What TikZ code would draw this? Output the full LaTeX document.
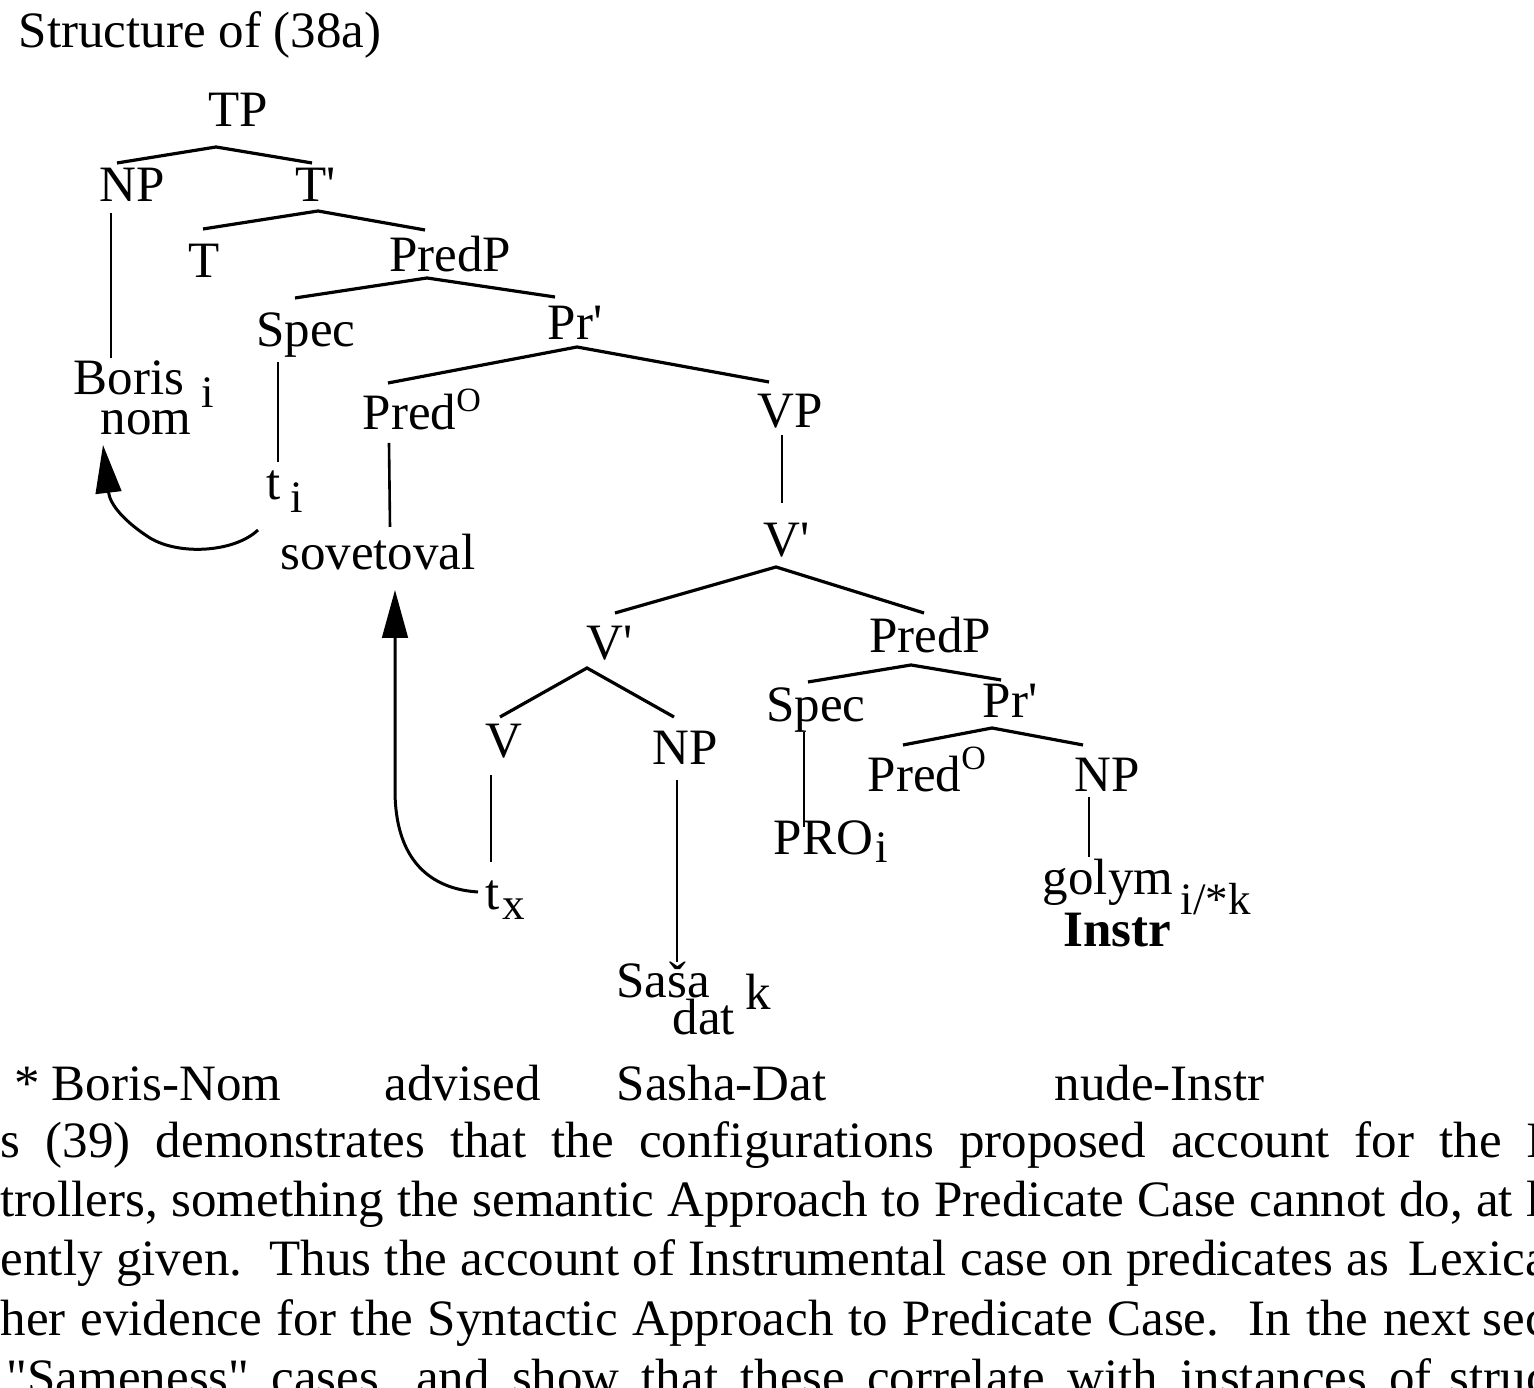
\documentclass[tikz,border=0pt]{standalone}
\usepackage{fontspec}
\setmainfont{Liberation Serif}
\usetikzlibrary{calc,arrows.meta}
\newcommand\fmain{\fontsize{12.75pt}{15pt}\selectfont}
\newcommand\fsubs{\fontsize{11.25pt}{13pt}\selectfont}
\newcommand\fsups{\fontsize{8.5pt}{10pt}\selectfont}
\newcommand\qsg{\textquotesingle}
\begin{document}
\begin{tikzpicture}[x=0.25pt,y=-0.25pt,
  lab/.style={inner sep=0pt,anchor=base,font=\fmain},
  labw/.style={inner sep=0pt,anchor=base west,font=\fmain},
  br/.style={line width=0.8pt},
  vl/.style={line width=0.65pt},
  mv/.style={line width=0.75pt,-{Triangle[length=12pt,width=6.4pt]}}]
\useasboundingbox (0,0) rectangle (1534,1388);
\clip (0,0) rectangle (1534,1388);

% title
\node[labw] (title) at (18,48) {Structure of (38a)};

% upper tree
\node[lab] (TP) at (238,127) {TP};
\node[lab] (NP1) at (132,202) {NP};
\node[lab] (Tb) at (316,202) {T\qsg};
\node[lab] (T) at (204,278) {T};
\node[lab] (PredP1) at (450,272) {PredP};
\node[lab] (Spec1) at (306,347) {Spec};
\node[lab] (Pr1) at (575,340) {Pr\qsg};
\node[lab] (Boris) at (129,395) {Boris};
\node[lab] (nom) at (146,435) {nom};
\node[lab,font=\fsubs] (Bi) at (208,408) {i};
\node[labw] (ti) at (266,500) {t\kern2.5pt\raisebox{-3.25pt}{\fsubs i}};
\node[labw] (Pred1) at (362,430) {Pred\raisebox{4.5pt}{\fsups O}};
\node[lab] (sov) at (378,570) {sovetoval};
\node[lab] (VP) at (790,428) {VP};
\node[lab] (Vb1) at (787,557) {V\qsg};
\node[lab] (Vb2) at (610,660) {V\qsg};
\node[lab] (V) at (504,758) {V};
\node[labw] (tx) at (485,910) {t\kern0.75pt\raisebox{-2.5pt}{\fsubs x}};
\node[lab] (NP2) at (685,765) {NP};
\node[lab] (Sasa) at (663,998) {Saša};
\node[lab] (dat) at (704,1035) {dat};
\node[lab] (kk) at (758,1010) {k};
\node[lab] (PredP2) at (930,653) {PredP};
\node[lab] (Spec2) at (816,722) {Spec};
\node[labw] (PRO) at (773,855) {PRO\kern0.5pt\raisebox{-2pt}{\fsubs i}};
\node[lab] (Pr2) at (1010,718) {Pr\qsg};
\node[labw] (Pred2) at (867,792) {Pred\raisebox{5.5pt}{\fsups O}};
\node[lab] (NP3) at (1107,792) {NP};
\node[lab] (golym) at (1108,895) {golym};
\node[labw,font=\fsubs] (ik) at (1180,915) {i/*k};
\node[lab] (Instr) at (1117,947) {\bfseries Instr};

% branches
\draw[br] ($(NP1.base)+(-15,-39)$) -- ($(TP.base)+(-22,20)$) -- ($(Tb.base)+(-4,-39)$);
\draw[br] ($(T.base)+(-1,-49)$) -- ($(Tb.base)+(2,9)$) -- ($(PredP1.base)+(-25,-42)$);
\draw[br] ($(Spec1.base)+(-11,-49)$) -- ($(PredP1.base)+(-23,6)$) -- ($(Pr1.base)+(-20,-43)$);
\draw[br] ($(Pred1.base west)+(26,-47)$) -- ($(Pr1.base)+(2,7)$) -- ($(VP.base)+(-21,-46)$);
\draw[br] ($(Vb2.base)+(5,-47)$) -- ($(Vb1.base)+(-11,10)$) -- ($(PredP2.base)+(-6,-40)$);
\draw[br] ($(V.base)+(-4,-41)$) -- ($(Vb2.base)+(-23,8)$) -- ($(NP2.base)+(-11,-48)$);
\draw[br] ($(Spec2.base)+(-8,-40)$) -- ($(PredP2.base)+(-19,12)$) -- ($(Pr2.base)+(-9,-38)$);
\draw[br] ($(Pred2.base west)+(36,-47)$) -- ($(Pr2.base)+(-18,10)$) -- ($(NP3.base)+(-24,-47)$);

% unary lines
\draw[vl] ($(NP1.base)+(-21,11)$) -- ($(Boris.base)+(-18,-37)$);
\draw[vl] ($(Spec1.base)+(-28,15)$) -- ($(ti.base west)+(12,-38)$);
\draw[vl] ($(Pred1.base west)+(27,13)$) -- ($(sov.base)+(12,-43)$);
\draw[vl] ($(VP.base)+(-8,7)$) -- ($(Vb1.base)+(-5,-54)$);
\draw[vl] ($(V.base)+(-13,17)$) -- ($(tx.base west)+(6,-48)$);
\draw[vl] ($(NP2.base)+(-8,15)$) -- ($(Sasa.base)+(14,-36)$);
\draw[vl] ($(Spec2.base)+(-12,10)$) -- ($(PRO.base west)+(31,-28)$);
\draw[vl] ($(NP3.base)+(-18,5)$) -- ($(golym.base)+(-19,-38)$);

% movement arrows
\draw[mv] ($(ti.base west)+(-8,30)$) .. controls (235,552) and (180,556) .. (150,538)
  .. controls (125,522) and (110,505) .. ($(nom.base)+(-43,10)$);
\draw[mv] ($(tx.base west)+(-7,-18)$) .. controls (430,889) and (395,860) .. (395,790)
  -- ($(sov.base)+(17,20)$);

% gloss
\node[labw] (g0) at (14,1101) {*};
\node[labw] (g1) at (51,1101) {Boris-Nom};
\node[labw] (g2) at (384,1101) {advised};
\node[labw] (g3) at (616,1101) {Sasha-Dat};
\node[labw] (g4) at (1054,1101) {nude-Instr};

% body text
\node[labw] (b1) at (0,1158) {\makebox[375.25pt][s]{s (39) demonstrates that the configurations proposed account for the}\hspace{6.25pt}I};
\node[labw] (b2) at (0,1217) {\makebox[378pt][s]{trollers, something the semantic Approach to Predicate Case cannot do, at}\hspace{3.5pt}l};
\node[labw] (b3) at (0,1276) {\makebox[347pt][s]{ently given.\ \ Thus the account of Instrumental case on predicates as}\hspace{5pt}Lexica};
\node[labw] (b4) at (0,1336) {\makebox[367.5pt][s]{her evidence for the Syntactic Approach to Predicate Case.\ \ In the next}\hspace{3pt}sec};
\node[labw] (b5) at (6,1395) {\makebox[356.25pt][s]{\textquotedbl Sameness\textquotedbl\ cases, and show that these correlate with instances of}\hspace{4.5pt}struc};
\end{tikzpicture}
\end{document}
